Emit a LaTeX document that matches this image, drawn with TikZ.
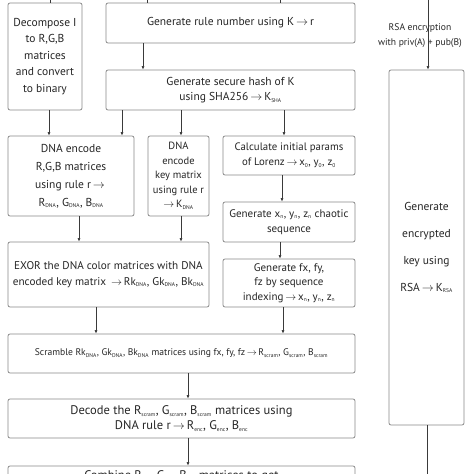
\documentclass[tikz,border=0pt]{standalone}
\usepackage{fontspec}
\setmainfont{PT Sans}
\usetikzlibrary{arrows.meta,calc}
\newcommand{\sbs}[1]{\textsubscript{\fontsize{5.5}{5.5}\selectfont #1}}
\newcommand{\ra}{\,$\rightarrow$\,}
\definecolor{boxc}{HTML}{8A8A8A}
\definecolor{linec}{HTML}{3A3A3A}
\definecolor{txtc}{HTML}{262626}
\begin{document}
\begin{tikzpicture}[x=1pt,y=-1pt,
  bx/.style={draw=boxc,line width=0.8pt,rounded corners=2pt,align=center,
    text=txtc,inner sep=1pt,font=\fontsize{11.5}{16.5}\selectfont},
  arr/.style={draw=linec,line width=0.6pt,-{Latex[length=3.5pt,width=3pt]}},
  ln/.style={draw=linec,line width=0.6pt}]
\useasboundingbox (0,0) rectangle (474,474);
\clip (0,0) rectangle (474,474);
\fill[white] (0,0) rectangle (474,474);

\node[bx,minimum width=74,minimum height=107] (dec) at (45,56.5)
  {Decompose I\\to R,G,B\\matrices\\and convert\\to binary};
\node[bx,minimum width=249,minimum height=40] (rule) at (230.5,23)
  {Generate rule number using K\ra r};
\node[bx,minimum width=249,minimum height=40,font=\fontsize{11.5}{15.5}\selectfont] (hash) at (230.5,90)
  {Generate secure hash of K\\using SHA256\ra K\sbs{SHA}};
\node[bx,minimum width=126,minimum height=80,font=\fontsize{11.5}{18}\selectfont] (dnargb) at (71,176)
  {DNA encode\\R,G,B matrices\\using rule r\ra\\R\sbs{DNA}, G\sbs{DNA}, B\sbs{DNA}};
\node[bx,minimum width=61,minimum height=80,font=\fontsize{10.5}{14.5}\selectfont] (dnakey) at (178.5,176)
  {DNA\\encode\\key matrix\\using rule r\\$\rightarrow$\,K\sbs{DNA}};
\node[bx,minimum width=132,minimum height=39,font=\fontsize{10.8}{15}\selectfont] (calc) at (289,155.5)
  {Calculate initial params\\of Lorenz\ra x\sbs{0}, y\sbs{0}, z\sbs{0}};
\node[bx,minimum width=132,minimum height=40,font=\fontsize{11}{15}\selectfont] (gen) at (289,222)
  {Generate x\sbs{n}, y\sbs{n}, z\sbs{n} chaotic\\sequence};
\node[bx,minimum width=132,minimum height=48,font=\fontsize{11}{14.5}\selectfont] (fx) at (289,283)
  {Generate fx, fy,\\fz by sequence\\indexing\ra x\sbs{n}, y\sbs{n}, z\sbs{n}};
\node[bx,minimum width=201,minimum height=65,font=\fontsize{11.2}{16}\selectfont] (exor) at (108.5,274.5)
  {EXOR the DNA color matrices with DNA\\encoded key matrix \ra Rk\sbs{DNA}, Gk\sbs{DNA}, Bk\sbs{DNA}};
\node[bx,minimum width=347,minimum height=39,font=\fontsize{9.6}{12}\selectfont] (scr) at (181.5,353.5)
  {Scramble Rk\sbs{DNA}, Gk\sbs{DNA}, Bk\sbs{DNA} matrices using fx, fy, fz\ra R\sbs{scram}, G\sbs{scram}, B\sbs{scram}};
\node[bx,minimum width=347,minimum height=39,font=\fontsize{12.5}{15}\selectfont] (dec2) at (181.5,418.5)
  {Decode the R\sbs{scram}, G\sbs{scram}, B\sbs{scram} matrices using\\DNA rule r\ra R\sbs{enc}, G\sbs{enc}, B\sbs{enc}};
\node[bx,minimum width=347,minimum height=39,font=\fontsize{12.5}{15}\selectfont,
  text height=12pt,text depth=25pt] (comb) at (181.5,485.5)
  {Combine R\sbs{enc}, G\sbs{enc}, B\sbs{enc} matrices to get};
\node[bx,minimum width=75,minimum height=355,font=\fontsize{11.5}{27}\selectfont] (rsa) at (426.5,247.5)
  {Generate\\encrypted\\key using\\RSA\ra K\sbs{RSA}};
\node[text=txtc,align=center,font=\fontsize{9.6}{15}\selectfont,inner sep=0pt] (rsalab) at (420,35.5)
  {RSA encryption\\with priv(A) + pub(B)};

% x-guides
\foreach \xx in {49,50,79,96,122,143,147,181,188,280,282,283,284,427,428}
  \coordinate (g\xx) at (\xx,0);
\coordinate (b427) at (427,480);

% incoming lines at top
\draw[ln] (g50) -- (dec.north -| g50);
\draw[ln] (g147) -- (rule.north -| g147);
\draw[ln] (g280) -- (rule.north -| g280);
\draw[arr] (g428) -- (rsa.north -| g428);

% connectors
\draw[arr] (rule.south -| g143) -- (hash.north -| g143);
\draw[arr] (dec.south -| g49) -- (dnargb.north -| g49);
\draw[arr] (hash.south -| g122) -- (dnargb.north -| g122);
\draw[arr] (hash.south -| g181) -- (dnakey.north -| g181);
\draw[arr] (hash.south -| g284) -- (calc.north -| g284);
\draw[arr] (calc.south -| g282) -- (gen.north -| g282);
\draw[arr] (gen.south -| g280) -- (fx.north -| g280);
\draw[arr] (dnargb.south -| g79) -- (exor.north -| g79);
\draw[arr] (dnakey.south -| g181) -- (exor.north -| g181);
\draw[arr] (exor.south -| g96) -- (scr.north -| g96);
\draw[arr] (fx.south -| g283) -- (scr.north -| g283);
\draw[arr] (scr.south -| g188) -- (dec2.north -| g188);
\draw[arr] (dec2.south -| g188) -- (comb.north -| g188);
\draw[ln] (rsa.south -| g427) -- (b427);
\end{tikzpicture}
\end{document}
